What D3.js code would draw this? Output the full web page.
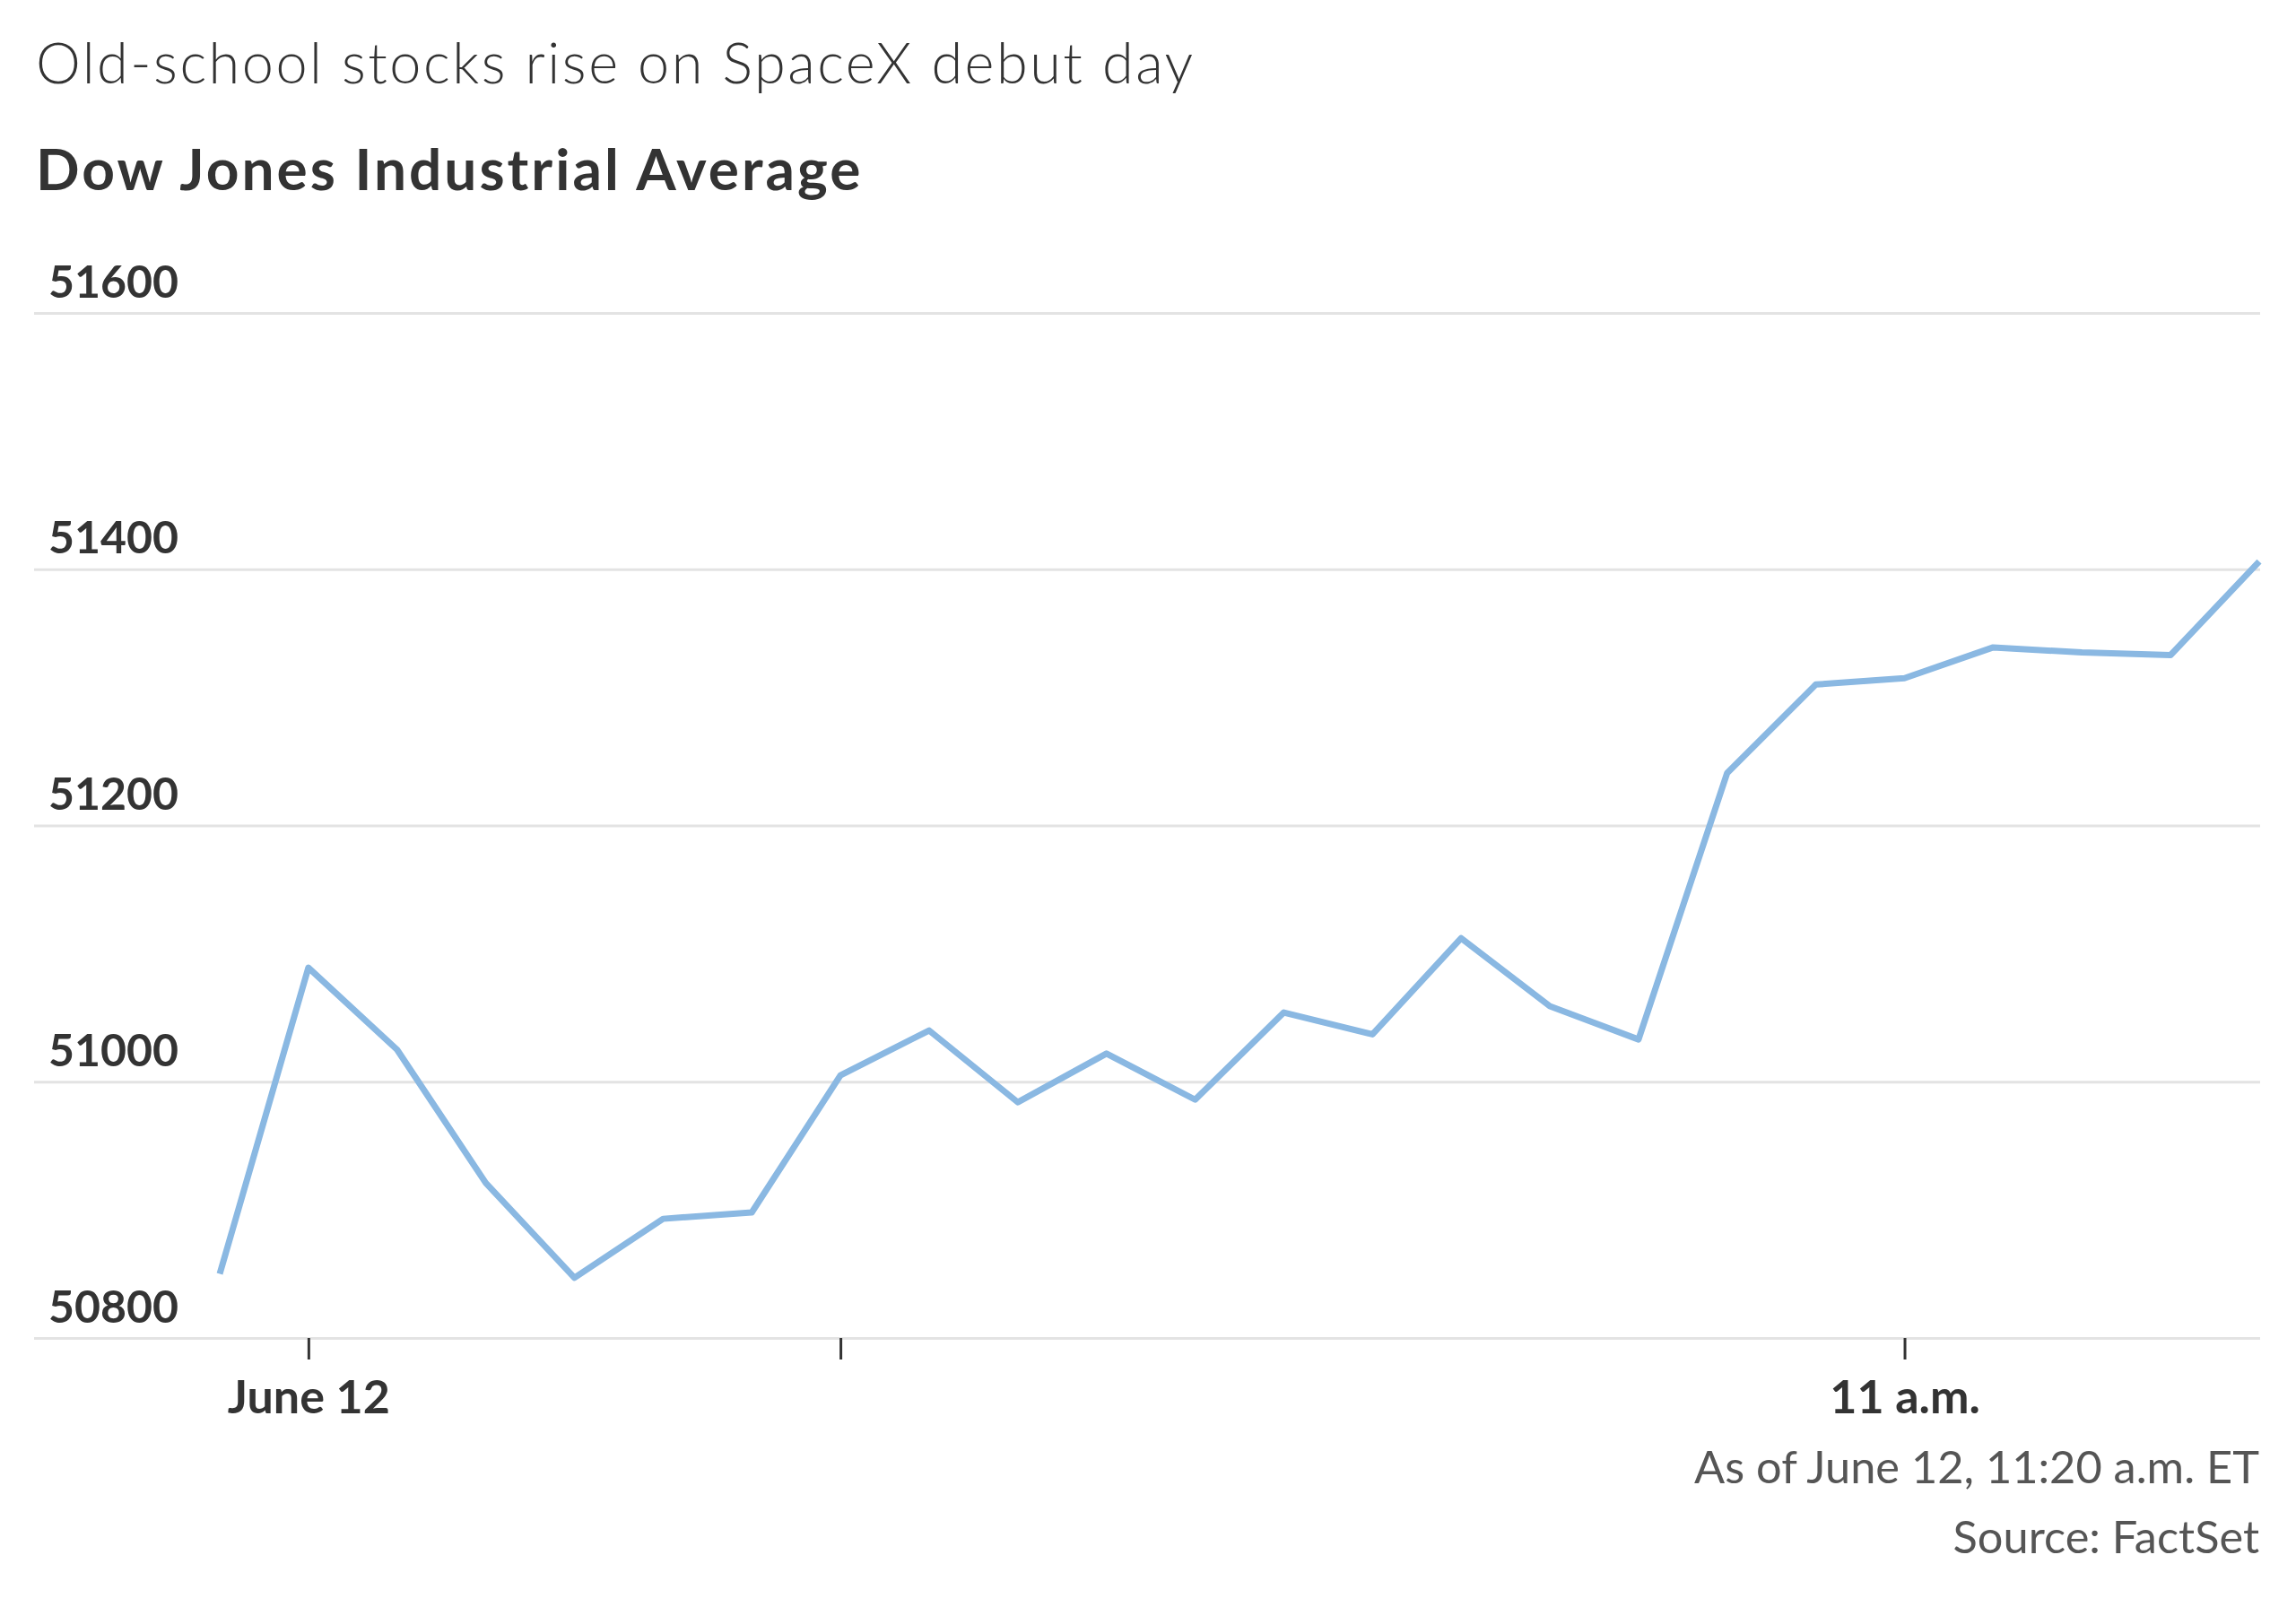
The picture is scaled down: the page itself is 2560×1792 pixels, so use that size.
<!DOCTYPE html>
<html>
<head>
<meta charset="utf-8">
<script src="https://cdn.jsdelivr.net/npm/d3@7"></script>
<style>
  body { margin: 0; background: #fff; }
  svg { display: block; font-family: Lato, sans-serif; }
</style>
</head>
<body>
<svg width="2560" height="1792"></svg>
<script>
// 5-minute readings, June 12
const times = ['9:25', '9:30', '9:35', '9:40', '9:45', '9:50', '9:55', '10:00',
  '10:05', '10:10', '10:15', '10:20', '10:25', '10:30', '10:35', '10:40',
  '10:45', '10:50', '10:55', '11:00', '11:05', '11:10', '11:15', '11:20'];
const values = [50850, 51089, 51025, 50921, 50847, 50893, 50898, 51005,
  51040, 50984, 51022, 50986, 51054, 51037, 51112, 51059,
  51033, 51241, 51310, 51315, 51339, 51335, 51333, 51406];
const yTicks = [50800, 51000, 51200, 51400, 51600];
const xTicks = ['9:30', '10:00', '11:00'];
const xTickLabels = ['June 12', '', '11 a.m.'];

(function (d3) {
  'use strict';

  const parseTime = d3.timeParse('%H:%M');
  const data = times.map((t, i) => ({ date: parseTime(t), value: values[i] }));

  const svg = d3.select('svg');

  const gridLeft = 38;
  const gridRight = 2520;

  const xScale = d3.scaleTime()
    .domain(d3.extent(data, d => d.date))
    .range([245, 2519]);

  const yScale = d3.scaleLinear()
    .domain([50800, 51600])
    .range([1492, 349]);

  // titles
  svg.append('text')
    .attr('x', 40)
    .attr('y', 93)
    .attr('fill', '#333')
    .style('font-size', '63px')
    .style('font-weight', 300)
    .style('letter-spacing', '2.5px')
    .text('Old-school stocks rise on SpaceX debut day');

  svg.append('text')
    .attr('x', 40)
    .attr('y', 212)
    .attr('fill', '#333')
    .style('font-size', '64px')
    .style('font-weight', 700)
    .style('letter-spacing', '3px')
    .text('Dow Jones Industrial Average');

  // y axis + gridlines
  const yAxis = d3.axisRight(yScale)
    .tickValues(yTicks)
    .tickFormat(d3.format('d'))
    .tickSize(gridRight - gridLeft);

  const yAxisG = svg.append('g')
    .attr('class', 'y-axis')
    .attr('transform', `translate(${gridLeft},0)`)
    .call(yAxis);
  yAxisG.select('.domain').remove();
  yAxisG.selectAll('line')
    .attr('stroke', '#e3e3e3')
    .attr('stroke-width', 3);
  yAxisG.selectAll('text')
    .attr('x', 16)
    .attr('y', -18)
    .attr('dy', null)
    .attr('fill', '#333')
    .style('font-family', 'Lato, sans-serif')
    .style('font-size', '50px')
    .style('font-weight', 700);

  // x axis
  const xAxis = d3.axisBottom(xScale)
    .tickValues(xTicks.map(parseTime))
    .tickFormat((d, i) => xTickLabels[i])
    .tickSize(24);

  const xAxisG = svg.append('g')
    .attr('class', 'x-axis')
    .attr('transform', `translate(0,${yScale(50800)})`)
    .call(xAxis);
  xAxisG.select('.domain').remove();
  xAxisG.selectAll('line')
    .attr('stroke', '#333')
    .attr('stroke-width', 3);
  xAxisG.selectAll('text')
    .attr('y', 84)
    .attr('dy', null)
    .attr('fill', '#333')
    .style('font-family', 'Lato, sans-serif')
    .style('font-size', '52px')
    .style('font-weight', 700);

  // line
  const line = d3.line()
    .x(d => xScale(d.date))
    .y(d => yScale(d.value));

  svg.append('path')
    .datum(data)
    .attr('fill', 'none')
    .attr('stroke', '#8ab8e2')
    .attr('stroke-width', 7)
    .attr('stroke-linejoin', 'round')
    .attr('d', line);

  // footer
  const notes = ['As of June 12, 11:20 a.m. ET', 'Source: FactSet'];
  svg.selectAll('.note')
    .data(notes)
    .enter().append('text')
      .attr('class', 'note')
      .attr('x', 2519)
      .attr('y', (d, i) => 1654 + i * 78)
      .attr('text-anchor', 'end')
      .attr('fill', '#555')
      .style('font-size', '50.5px')
      .text(d => d);

}(d3));
</script>
</body>
</html>
